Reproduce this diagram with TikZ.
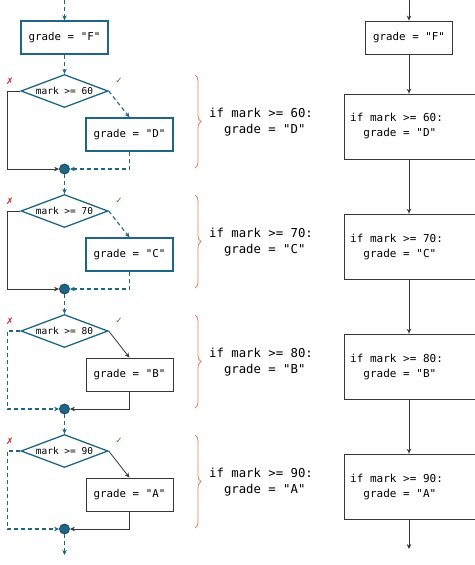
\documentclass[tikz,border=0pt]{standalone}
\usepackage{fontspec}
\newfontfamily\codefont{DejaVu Sans Mono}[WordSpace={1,0,0},Ligatures=TeXOff]
\newfontfamily\symfont{DejaVu Sans}
\usetikzlibrary{arrows.meta,shapes.geometric,decorations.pathreplacing}
\definecolor{flowteal}{RGB}{31,101,134}
\definecolor{flowgray}{RGB}{55,55,55}
\definecolor{braceorange}{RGB}{236,128,82}
\definecolor{nored}{RGB}{205,35,35}
\definecolor{yesgreen}{RGB}{50,125,45}
\tikzset{
  taken/.style={flowteal, line width=1.1pt, dash pattern=on 4pt off 3pt},
  idle/.style={flowgray, line width=0.8pt},
  stmt/.style={draw=flowgray, line width=0.8pt, minimum width=87pt, minimum height=33pt, inner sep=0pt,
    font=\codefont\fontsize{10.8}{13}\selectfont},
  tealstmt/.style={stmt, draw=flowteal, line width=1.3pt},
  cond/.style={diamond, draw=flowteal, line width=1.3pt, aspect=2.6, inner sep=0pt,
    minimum width=87pt, minimum height=33pt, font=\codefont\fontsize{9.5}{11}\selectfont},
  junction/.style={circle, fill=flowteal, draw=flowteal!70!black, line width=0.8pt, minimum size=10pt, inner sep=0pt},
  bigstmt/.style={draw=flowgray, line width=0.8pt, anchor=west, minimum width=140pt, minimum height=65pt},
  code/.style={anchor=west, align=left, inner sep=0pt, font=\codefont\fontsize{12.3}{16}\selectfont},
  smallcode/.style={code, font=\codefont\fontsize{11}{15}\selectfont},
}
\begin{document}
\begin{tikzpicture}[x=1pt, y=-1pt, >={Stealth[length=5pt,width=4.5pt]}]
  \useasboundingbox (0,0) rectangle (474,565);

  % flowchart on the left
  \coordinate (ltop) at (64.5,0);
  \coordinate (lend) at (64.5,555);
  \node[tealstmt] (gf) at (64.5,37.5) {grade = "F"};

  % right column
  \coordinate (rtop) at (409,0);
  \coordinate (rend) at (409,549);
  \node[stmt] (rf) at (409,37.5) {grade = "F"};

  \foreach \m/\g/\yes/\no/\kind [count=\k from 0] in
      {60/D/taken/idle/tealstmt, 70/C/taken/idle/tealstmt, 80/B/idle/taken/stmt, 90/A/idle/taken/stmt}{
    \node[cond] (d\m) at (64.5,91+120*\k) {mark >= \m};
    \node[\kind] (g\m) at (129.5,134.5+120*\k) {grade = "\g"};
    \node[junction] (j\m) at (64.5,169+120*\k) {};
    \node[text=nored, font=\symfont\fontsize{9}{9}\selectfont] (x\m) at (10,81+120*\k) {✗};
    \node[text=yesgreen, font=\symfont\fontsize{8.5}{9}\selectfont] (v\m) at (119,81+120*\k) {✓};

    \draw[\no,->] (d\m.west) -- ++(-13,0) |- (j\m);
    \draw[\yes,->] (d\m.east) -- (g\m.north);
    \draw[\yes,->] (g\m.south) |- (j\m);

    % brace and the code it stands for
    \draw[braceorange, line width=0.8pt, decorate, decoration={brace, amplitude=6pt}]
      (195,75+120*\k) -- (195,168+120*\k);
    \node[code] (c\m) at (209,122+120*\k) {if mark >= \m:\\\hphantom{if}grade = "\g"};

    \node[bigstmt] (r\m) at (344,126.5+120*\k) {};
    \node[smallcode] (t\m) at ([xshift=6pt]r\m.west) {if mark >= \m:\\\hphantom{if}grade = "\g"};
  }

  \draw[taken,->] (ltop) -- (gf);
  \draw[taken,->] (gf) -- (d60);
  \draw[taken,->] (j60) -- (d70);
  \draw[taken,->] (j70) -- (d80);
  \draw[taken,->] (j80) -- (d90);
  \draw[taken,->] (j90) -- (lend);

  \draw[idle,->] (rtop) -- (rf);
  \draw[idle,->] (rf) -- (rf |- r60.north);
  \draw[idle,->] (rf |- r60.south) -- (rf |- r70.north);
  \draw[idle,->] (rf |- r70.south) -- (rf |- r80.north);
  \draw[idle,->] (rf |- r80.south) -- (rf |- r90.north);
  \draw[idle,->] (rf |- r90.south) -- (rend);
\end{tikzpicture}
\end{document}
